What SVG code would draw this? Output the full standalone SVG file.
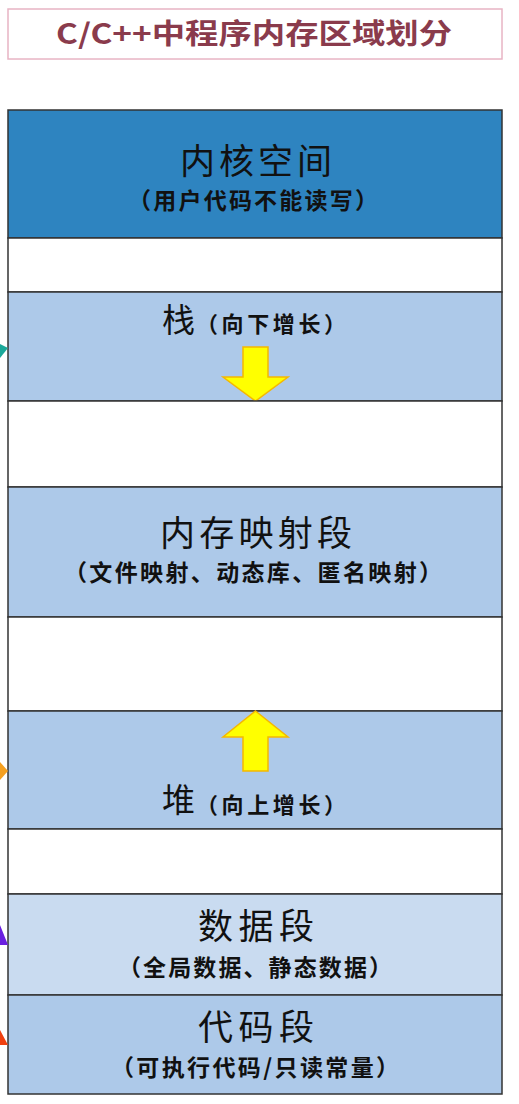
<svg xmlns="http://www.w3.org/2000/svg" width="519" height="1104" viewBox="0 0 519 1104">
<style>
.seg{stroke:#333;stroke-width:1.5}
.main{font-family:"Noto Sans CJK SC",sans-serif;font-size:35px;fill:#111;text-anchor:middle}
.sub{font-family:"Noto Sans CJK SC",sans-serif;font-size:23px;font-weight:bold;fill:#111;text-anchor:middle}
.side{font-family:"Noto Sans CJK SC",sans-serif;font-size:22px;font-weight:bold;fill:#111}
.arrow{fill:#ffff00;stroke:#f5b800;stroke-width:1.5;stroke-linejoin:miter}
</style>
<rect width="519" height="1104" fill="#fff"/>
<g id="title">
<rect x="8" y="9" width="494" height="50" fill="#fff" stroke="#e8b4c4" stroke-width="1.5"/>
<text x="254" y="44" textLength="396" lengthAdjust="spacingAndGlyphs" style="font-family:'Noto Sans CJK SC',serif;font-size:28px;font-weight:bold;fill:#8a3b4c;text-anchor:middle">C/C++中程序内存区域划分</text>
</g>
<g id="kernel">
<rect class="seg" x="8" y="110" width="494" height="128" fill="#2e84c0"/>
<text class="main" x="256" y="174" textLength="152">内核空间</text>
<text class="sub" x="253" y="209" textLength="250">（用户代码不能读写）</text>
</g>
<g id="gap1"><rect class="seg" x="8" y="238" width="494" height="54" fill="#fff"/></g>
<g id="stack">
<rect class="seg" x="8" y="292" width="494" height="109" fill="#adc9e9"/>
<text class="main" x="162" y="332" style="text-anchor:start;font-size:33px">栈</text>
<text class="side" x="196" y="332" textLength="150">（向下增长）</text>
<polygon class="arrow" points="243,347 268,347 268,377 288,377 255.5,401 223,377 243,377"/>
</g>
<g id="gap2"><rect class="seg" x="8" y="401" width="494" height="86" fill="#fff"/></g>
<g id="mmap">
<rect class="seg" x="8" y="487" width="494" height="130" fill="#adc9e9"/>
<text class="main" x="256" y="546" textLength="192">内存映射段</text>
<text class="sub" x="253" y="581" textLength="378">（文件映射、动态库、匿名映射）</text>
</g>
<g id="gap3"><rect class="seg" x="8" y="617" width="494" height="94" fill="#fff"/></g>
<g id="heap">
<rect class="seg" x="8" y="711" width="494" height="118" fill="#adc9e9"/>
<polygon class="arrow" points="255.5,711 288,737 268,737 268,771 243,771 243,737 223,737"/>
<text class="main" x="162" y="812" style="text-anchor:start;font-size:33px">堆</text>
<text class="side" x="196" y="813" textLength="150">（向上增长）</text>
</g>
<g id="gap4"><rect class="seg" x="8" y="829" width="494" height="65" fill="#fff"/></g>
<g id="data">
<rect class="seg" x="8" y="894" width="494" height="101" fill="#c9dbf0"/>
<text class="main" x="256" y="939" textLength="116">数据段</text>
<text class="sub" x="255" y="976" textLength="274">（全局数据、静态数据）</text>
</g>
<g id="code">
<rect class="seg" x="8" y="995" width="494" height="99" fill="#adc9e9"/>
<text class="main" x="256" y="1040" textLength="116">代码段</text>
<text class="sub" x="255" y="1076" textLength="288">（可执行代码/只读常量）</text>
</g>
<g id="connectors">
<polygon points="0,344 8,348 0,358" fill="#1aa89a"/>
<polygon points="0,762 8,771 0,780" fill="#f5a020"/>
<polygon points="0,925 8,945 0,945" fill="#6a1fe0"/>
<polygon points="0,1030 8,1045 0,1045" fill="#f04010"/>
</g>
</svg>
